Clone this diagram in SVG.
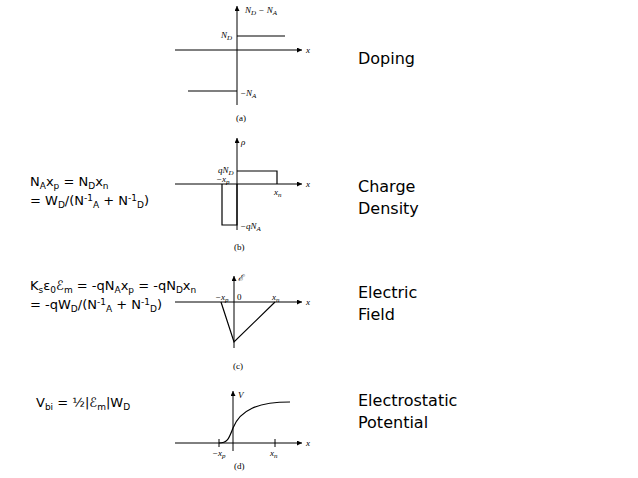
<svg xmlns="http://www.w3.org/2000/svg" width="638" height="478" viewBox="0 0 638 478">
<style>
.ax{stroke:#000;stroke-width:1;fill:none}
.c{stroke:#000;stroke-width:1.2;fill:none}
.m{font-family:"Liberation Serif",serif;font-size:9px;font-style:italic;fill:#000}
.cap{font-family:"Liberation Serif",serif;font-size:9px;fill:#000}
.t{font-family:"DejaVu Sans",sans-serif;font-size:16px;fill:#000}
.e{font-family:"DejaVu Sans",sans-serif;font-size:13px;fill:#000}
</style>
<defs><marker id="ar" viewBox="0 0 6 6" refX="6" refY="3" markerWidth="5" markerHeight="5" orient="auto"><path d="M0,0L6,3L0,6z" fill="#000"/></marker></defs>
<rect width="638" height="478" fill="#fff"/>
<g id="connectors">
<line class="ax" x1="175" y1="50" x2="302" y2="50" marker-end="url(#ar)"/>
<line class="ax" x1="237" y1="105" x2="237" y2="6" marker-end="url(#ar)"/>
<line class="ax" x1="175" y1="184" x2="302" y2="184" marker-end="url(#ar)"/>
<line class="ax" x1="237" y1="230" x2="237" y2="138" marker-end="url(#ar)"/>
<line class="ax" x1="175" y1="302" x2="302" y2="302" marker-end="url(#ar)"/>
<line class="ax" x1="234" y1="348" x2="234" y2="276" marker-end="url(#ar)"/>
<line class="ax" x1="175" y1="443" x2="302" y2="443" marker-end="url(#ar)"/>
<line class="ax" x1="233" y1="451" x2="233" y2="391" marker-end="url(#ar)"/>
</g>
<g id="doping">
<polyline class="c" points="237,36 285,36"/>
<polyline class="c" points="188,91 237,91"/>
<text class="m" x="245" y="13">N<tspan font-size="7" dy="2">D</tspan><tspan dy="-2"> − N</tspan><tspan font-size="7" dy="2">A</tspan></text>
<text class="m" x="221" y="38">N<tspan font-size="7" dy="2">D</tspan></text>
<text class="m" x="240" y="96">−N<tspan font-size="7" dy="2">A</tspan></text>
<text class="m" x="306" y="53">x</text>
<text class="cap" x="236" y="121">(a)</text>
<text class="t" x="358" y="64">Doping</text>
</g>
<g id="charge">
<polyline class="c" points="237,171 277,171 277,184"/>
<polyline class="c" points="222,184 222,225 237,225 237,184"/>
<text class="m" x="241" y="145">ρ</text>
<text class="m" x="218" y="173">qN<tspan font-size="7" dy="2">D</tspan></text>
<text class="m" x="216" y="182">−x<tspan font-size="7" dy="2">p</tspan></text>
<text class="m" x="274" y="195">x<tspan font-size="7" dy="2">n</tspan></text>
<text class="m" x="240" y="229">−qN<tspan font-size="7" dy="2">A</tspan></text>
<text class="m" x="306" y="187">x</text>
<text class="cap" x="234" y="250">(b)</text>
<text class="e" x="30" y="186">N<tspan font-size="9" dy="3">A</tspan><tspan dy="-3">x</tspan><tspan font-size="9" dy="3">p</tspan><tspan dy="-3"> = N</tspan><tspan font-size="9" dy="3">D</tspan><tspan dy="-3">x</tspan><tspan font-size="9" dy="3">n</tspan></text>
<text class="e" x="30" y="205">= W<tspan font-size="9" dy="3">D</tspan><tspan dy="-3">/(N</tspan><tspan font-size="9" dy="-4">-1</tspan><tspan font-size="9" dy="7">A</tspan><tspan dy="-3"> + N</tspan><tspan font-size="9" dy="-4">-1</tspan><tspan font-size="9" dy="7">D</tspan><tspan dy="-3">)</tspan></text>
<text class="t" x="358" y="192">Charge</text>
<text class="t" x="358" y="214">Density</text>
</g>
<g id="field">
<polyline class="c" points="221,302 234,342 275,302"/>
<text class="m" x="238" y="281">ℰ</text>
<text class="m" x="215" y="300">−x<tspan font-size="7" dy="2">p</tspan></text>
<text class="cap" x="237" y="300">0</text>
<text class="m" x="272" y="300">x<tspan font-size="7" dy="2">n</tspan></text>
<text class="m" x="306" y="305">x</text>
<text class="cap" x="233" y="369">(c)</text>
<text class="e" x="30" y="290">K<tspan font-size="9" dy="3">s</tspan><tspan dy="-3">ε</tspan><tspan font-size="9" dy="3">0</tspan><tspan dy="-3">ℰ</tspan><tspan font-size="9" dy="3">m</tspan><tspan dy="-3"> = -qN</tspan><tspan font-size="9" dy="3">A</tspan><tspan dy="-3">x</tspan><tspan font-size="9" dy="3">p</tspan><tspan dy="-3"> = -qN</tspan><tspan font-size="9" dy="3">D</tspan><tspan dy="-3">x</tspan><tspan font-size="9" dy="3">n</tspan></text>
<text class="e" x="30" y="309">= -qW<tspan font-size="9" dy="3">D</tspan><tspan dy="-3">/(N</tspan><tspan font-size="9" dy="-4">-1</tspan><tspan font-size="9" dy="7">A</tspan><tspan dy="-3"> + N</tspan><tspan font-size="9" dy="-4">-1</tspan><tspan font-size="9" dy="7">D</tspan><tspan dy="-3">)</tspan></text>
<text class="t" x="358" y="298">Electric</text>
<text class="t" x="358" y="320">Field</text>
</g>
<g id="potential">
<path class="c" d="M219,443 C228,443 229,438 233,428 C240,410 258,402 290,402"/>
<line class="ax" x1="219" y1="439" x2="219" y2="447"/>
<line class="ax" x1="275" y1="439" x2="275" y2="447"/>
<text class="m" x="238" y="398">V</text>
<text class="m" x="212" y="456">−x<tspan font-size="7" dy="2">p</tspan></text>
<text class="m" x="270" y="456">x<tspan font-size="7" dy="2">n</tspan></text>
<text class="m" x="306" y="446">x</text>
<text class="cap" x="234" y="469">(d)</text>
<text class="e" x="36" y="407">V<tspan font-size="9" dy="3">bi</tspan><tspan dy="-3"> = ½|ℰ</tspan><tspan font-size="9" dy="3">m</tspan><tspan dy="-3">|W</tspan><tspan font-size="9" dy="3">D</tspan></text>
<text class="t" x="358" y="406">Electrostatic</text>
<text class="t" x="358" y="428">Potential</text>
</g>
</svg>
